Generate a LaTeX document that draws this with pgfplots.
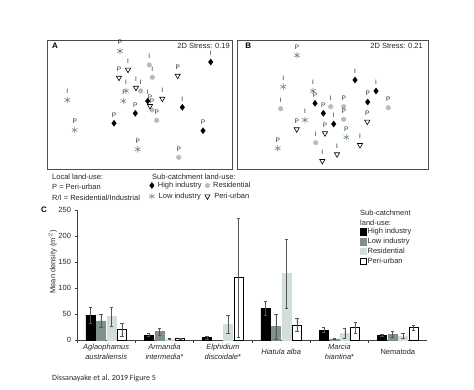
\documentclass[border=0pt]{standalone}
\usepackage{pgfplots}
\pgfplotsset{compat=1.18}
\usepackage{fontspec}
\setmainfont{Liberation Sans}
\newfontfamily\carlito{Carlito}
\definecolor{lic}{HTML}{7E918B}
\definecolor{resc}{HTML}{D3DDDA}
\definecolor{astc}{HTML}{6E8C86}
\definecolor{circc}{HTML}{B3BEBA}
\definecolor{errc}{HTML}{555555}
\definecolor{framec}{HTML}{4D4D4D}
\definecolor{txt}{HTML}{262626}
\newcommand\ftext{\fontsize{7.5}{9}\selectfont}
\newcommand\fpt{\fontsize{6.5}{7}\selectfont}
\pgfplotsset{
  nmds/.style={scale only axis, height=129pt, ymin=-169, ymax=-40,
    xtick=\empty, ytick=\empty, axis line style={framec, line width=0.8pt},
    clip=false, point meta=explicit symbolic,
    every node near coord/.style={font=\fpt, text=txt, anchor=center, yshift=8.3pt, inner sep=0pt},
    legend image code/.code={\draw[##1] plot coordinates {(3pt,0pt)};},
  },
  hi/.style={only marks, mark=diamond*, mark size=3pt, black, nodes near coords},
  res/.style={only marks, mark=*, mark size=2.3pt, circc, nodes near coords},
  li/.style={only marks, mark=asterisk, mark size=3.2pt, astc, mark options={line width=0.6pt}, nodes near coords},
  peri/.style={only marks, mark=triangle, mark size=3pt, black, mark options={rotate=180, fill=white, line width=0.6pt}, nodes near coords},
}
\begin{document}
\begin{tikzpicture}[x=1pt,y=1pt]
% ---------- Panel A ----------
\begin{axis}[nmds, width=185pt, xmin=47, xmax=232, at={(47pt,220pt)}, anchor=south west,
  legend columns=2,
  legend style={at={(0.551,-0.09)}, anchor=north west, draw=none, fill=none, font=\ftext, text=txt,
    inner sep=0pt, row sep=1.5pt, column sep=2pt, nodes={inner sep=1.2pt}}]
\addplot[hi] table[meta=l] {
x y l
210.7 -62 I
147.7 -101 I
135.3 -113.3 P
114 -123.3 P
182.3 -107.3 I
203 -130.7 P
};
\addlegendentry{High industry}
\addplot[res] table[meta=l] {
x y l
149.3 -65 I
152.3 -77.3 I
140.7 -91 I
152 -110 P
156.7 -120.3 P
178.7 -157.3 P
};
\addlegendentry{Residential}
\addplot[li] table[meta=l] {
x y l
120 -51 P
126 -90.7 I
123.3 -101 I
67.3 -100 I
74.7 -130 P
137.7 -149.3 P
};
\addlegendentry{Low industry}
\addplot[peri] table[meta=l] {
x y l
128 -69.7 I
119 -77.7 P
177.7 -75.7 P
136 -87.7 I
162.3 -98.7 I
150 -106 P
};
\addlegendentry{Peri-urban}
\end{axis}
% ---------- Panel B ----------
\begin{axis}[nmds, width=191pt, xmin=237, xmax=428, at={(237pt,220pt)}, anchor=south west]
\addplot[hi] table[meta=l] {
x y l
355 -80 I
376 -91 I
315 -103.3 P
367.7 -102 P
323.3 -113.3 P
333.7 -124 I
};
\addplot[res] table[meta=l] {
x y l
280.7 -108.7 I
330.7 -106.7 I
343.7 -106.7 P
388.3 -107.7 P
343.7 -119.3 P
315.7 -142.7 I
};
\addplot[li] table[meta=l] {
x y l
297 -55.3 P
283.3 -86.7 I
313 -91 I
305 -120 I
346.3 -137.3 P
277.7 -148.3 P
};
\addplot[peri] table[meta=l] {
x y l
296.7 -129.3 P
367.3 -121.7 P
325 -133.3 P
360 -145 I
337 -154.3 I
322.3 -161 I
};
\end{axis}
\node[font=\bfseries\fontsize{8}{9}\selectfont, inner sep=0pt] at (55,343) {A};
\node[font=\bfseries\fontsize{8}{9}\selectfont, inner sep=0pt] at (248.3,343) {B};
\node[font=\ftext, text=txt, anchor=east, inner sep=0pt] at (230,343) {2D Stress: 0.19};
\node[font=\ftext, text=txt, anchor=east, inner sep=0pt] at (423,343) {2D Stress: 0.21};
\node[font=\ftext, text=txt, anchor=west, inner sep=0pt] at (52,212.3) {Local land-use:};
\node[font=\ftext, text=txt, anchor=west, inner sep=0pt] at (52,202.3) {P = Peri-urban};
\node[font=\ftext, text=txt, anchor=west, inner sep=0pt] at (52,191.3) {R/I = Residential/Industrial};
\node[font=\ftext, text=txt, anchor=west, inner sep=0pt] at (152,212.3) {Sub-catchment land-use:};
% ---------- Panel C ----------
\begin{axis}[scale only axis, width=350pt, height=130pt, at={(77pt,49pt)}, anchor=south west,
  xmin=-0.5, xmax=5.5, ymin=0, ymax=250, enlargelimits=false,
  axis x line*=bottom, axis y line*=left,
  axis line style={black!75, line width=0.6pt},
  ybar=1.5pt, bar width=9pt,
  tick align=outside, major tick length=2.5pt,
  xtick={0,...,5},
  xticklabels={{\textit{Aglaophamus}\\\textit{australiensis}},{\textit{Armandia}\\\textit{intermedia}*},{\textit{Elphidium}\\\textit{discoidale}*},{\textit{Hiatula alba}},{\textit{Marcia}\\\textit{hiantina}*},{Nematoda}},
  xticklabel style={align=center, font=\fontsize{7.5}{10}\selectfont, text=txt, anchor=center, yshift=-9pt},
  xtick style={draw=none},
  extra x ticks={-0.5,0.5,1.5,2.5,3.5,4.5},
  extra x tick labels={},
  extra x tick style={xtick style={draw=black!75, line width=0.5pt}, major tick length=3pt},
  ytick={0,50,...,250},
  ytick style={black!75, line width=0.5pt},
  yticklabel style={font=\ftext, text=txt},
  /pgf/number format/assume math mode=true,
  ylabel={Mean density (m\textsuperscript{-2})},
  ylabel style={font=\ftext, text=txt, at={(axis description cs:-0.069,0.6)}, anchor=center},
  legend image code/.code={\draw[#1] (0pt,-3.2pt) rectangle (6.5pt,3.2pt);},
  legend style={at={(0.8066,0.87)}, anchor=north west, draw=none, fill=none, font=\ftext, text=txt,
    inner sep=0pt, row sep=1pt, nodes={inner sep=1pt}},
  legend cell align=left,
  error bars/y dir=both, error bars/y explicit,
  error bars/error bar style={errc, line width=0.5pt},
  error bars/error mark options={rotate=90, errc, mark size=1.6pt, line width=0.5pt},
]
\addplot[fill=black, draw=black] table[x=x, y=y, y error=e] {
x y e
0 48 15
1 9.6 3
2 4.5 2.5
3 61 14
4 19 5
5 9 2
};
\addlegendentry{High industry}
\addplot[fill=lic, draw=lic] table[x=x, y=y, y error=e] {
x y e
0 37 13
1 16 6
3 25.6 24
4 2 1
5 11.5 6
};
\addlegendentry{Low industry}
\addplot[fill=resc, draw=resc] table[x=x, y=y, y error=e] {
x y e
0 45 18
1 2 1
2 30 17
3 128 66
4 13 10
5 8 5
};
\addlegendentry{Residential}
\addplot[fill=white, draw=black, line width=0.6pt] table[x=x, y=y, y error=e] {
x y e
0 20.5 12.5
1 2.5 1
2 120 114
3 29 13
4 24 11
5 24 4.5
};
\addlegendentry{Peri-urban}
\end{axis}
\node[font=\bfseries\fontsize{8}{9}\selectfont, inner sep=0pt] at (44,179) {C};
\node[font=\ftext, text=txt, anchor=west, inner sep=0pt] at (360,175.7) {Sub-catchment};
\node[font=\ftext, text=txt, anchor=west, inner sep=0pt] at (360,166.3) {land-use:};
\node[font=\carlito\fontsize{8}{9}\selectfont, text=txt, anchor=west, inner sep=0pt] at (52,11) {Dissanayake et al. 2019 Figure 5};
\pgfresetboundingbox
\path (0pt,0pt) rectangle (474pt,389pt);
\end{tikzpicture}
\end{document}
